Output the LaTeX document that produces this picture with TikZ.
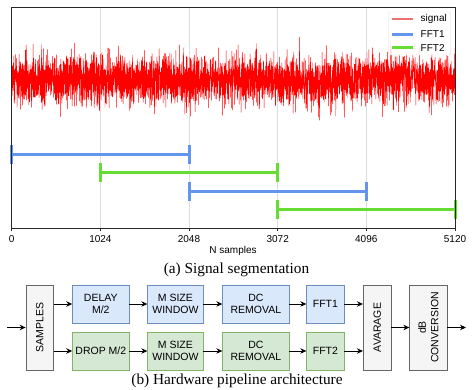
\documentclass[tikz,border=0pt]{standalone}
\usepackage{fontspec}
\setmainfont{Liberation Serif}
\setsansfont{Liberation Sans}
\usetikzlibrary{arrows.meta}
\definecolor{fftblue}{HTML}{6495ED}
\definecolor{fftgreen}{HTML}{66DD33}
\definecolor{bfill}{HTML}{DAE8FC}
\definecolor{bdraw}{HTML}{6C8EBF}
\definecolor{gfill}{HTML}{D5E8D4}
\definecolor{gdraw}{HTML}{82B366}
\definecolor{nfill}{HTML}{F5F5F5}
\definecolor{ndraw}{HTML}{666666}
\definecolor{gridc}{HTML}{DDDDDD}
\definecolor{legred}{HTML}{F07070}
\tikzset{
  box/.style={draw, line width=0.8pt, inner sep=1pt, align=center, font=\sffamily\fontsize{10.5}{11.5}\selectfont},
  bluebox/.style={box, fill=bfill, draw=bdraw},
  greenbox/.style={box, fill=gfill, draw=gdraw},
  graybox/.style={box, fill=nfill, draw=ndraw},
  arr/.style={-{Stealth[length=6pt,width=5.5pt]}, line width=0.9pt},
  seg/.style={line width=3pt},
  ticklab/.style={font=\sffamily\fontsize{10}{11}\selectfont},
  captext/.style={font=\fontsize{15.3}{17}\selectfont},
}
\begin{document}
\begin{tikzpicture}[x=1pt,y=-1pt]
\useasboundingbox (0,0) rectangle (474,389);
% grid
\foreach \gx in {100.4,189,277.7,366.3}
  \draw[gridc, line width=0.8pt] (\gx,7) -- (\gx,228);
% signal
\pgfmathsetseed{12345}
\draw[red, line width=0.45pt, line join=round]
  (11.7,80) \foreach \i in {1,...,4000} { -- ({11.7+\i*0.110825},{80+11*(rand+rand+rand+rand)}) };
% segments
\foreach \ya/\xa/\xb/\c in {154/11.7/189/fftblue, 172.7/100.4/277.7/fftgreen, 191/189/366.3/fftblue, 209/277.7/455/fftgreen}{
  \draw[\c, seg] (\xa,\ya) -- (\xb,\ya);
  \draw[\c, seg] (\xa,\ya-9.5) -- (\xa,\ya+9.5);
  \draw[\c, seg] (\xb,\ya-9.5) -- (\xb,\ya+9.5);
}
% frame
\draw[black!85, line width=0.8pt] (11.7,7) rectangle (455,228);
% ticks
\foreach \gx/\lab in {11.7/0,100.4/1024,189/2048,277.7/3072,366.3/4096,455/5120}{
  \draw[black!85, line width=0.8pt] (\gx,228) -- (\gx,231);
  \node[ticklab] (t\lab) at (\gx,239) {\lab};
}
\node[ticklab] (xl) at (233,250.5) {N samples};
% legend
\node[draw=gridc, fill=white, fill opacity=0.85, rounded corners=2pt, minimum width=62pt, minimum height=43pt] (leg) at (419.5,33.5) {};
\draw[legred, line width=1.2pt] (391.7,19) -- (412.7,19);
\draw[fftblue, seg] (391.7,34.3) -- (412.7,34.3);
\draw[fftgreen, seg] (391.7,47.7) -- (412.7,47.7);
\node[ticklab, anchor=west, inner sep=0pt] (l1) at (420.5,18.5) {signal};
\node[ticklab, anchor=west, inner sep=0pt] (l2) at (420.5,34.3) {FFT1};
\node[ticklab, anchor=west, inner sep=0pt] (l3) at (420.5,47.7) {FFT2};
% captions
\node[captext] (capa) at (236.5,270) {(a) Signal segmentation};
\node[captext] (capb) at (237,381) {(b) Hardware pipeline architecture};
% pipeline
\node[graybox, minimum width=27.5pt, minimum height=85pt] (samples) at (39.8,327.5) {};
\node[rotate=90, font=\sffamily\fontsize{10.5}{11.5}\selectfont] (samplest) at (samples.center) {SAMPLES};
\node[bluebox, minimum width=56.3pt, minimum height=38pt] (delay) at (100.8,304) {DELAY\\M/2};
\node[greenbox, minimum width=56.3pt, minimum height=38pt] (drop) at (100.8,351) {DROP M/2};
\node[bluebox, minimum width=55.3pt, minimum height=38pt] (msw1) at (175.4,304) {M SIZE\\WINDOW};
\node[greenbox, minimum width=55.3pt, minimum height=38pt] (msw2) at (175.4,351) {M SIZE\\WINDOW};
\node[bluebox, minimum width=66.3pt, minimum height=38pt] (dc1) at (255.9,304) {DC\\REMOVAL};
\node[greenbox, minimum width=66.3pt, minimum height=38pt] (dc2) at (255.9,351) {DC\\REMOVAL};
\node[bluebox, minimum width=37.3pt, minimum height=38pt] (fft1) at (325.4,304) {FFT1};
\node[greenbox, minimum width=37.3pt, minimum height=38pt] (fft2) at (325.4,351) {FFT2};
\node[graybox, minimum width=27.7pt, minimum height=85pt] (avg) at (377.2,327.5) {};
\node[rotate=90, font=\sffamily\fontsize{10.5}{11.5}\selectfont] (avgt) at (avg.center) {AVARAGE};
\node[graybox, minimum width=37.3pt, minimum height=85pt] (db) at (428.4,327.5) {};
\node[rotate=90, align=center, font=\sffamily\fontsize{10.5}{12.5}\selectfont] (dbt) at (db.center) {dB\\CONVERSION};
\coordinate (in) at (7,327.5);
\coordinate (out) at (466,327.5);
\draw[arr] (in) -- (samples.west);
\draw[arr] (samples.east |- delay.west) -- (delay.west);
\draw[arr] (samples.east |- drop.west) -- (drop.west);
\draw[arr] (delay) -- (msw1);
\draw[arr] (drop) -- (msw2);
\draw[arr] (msw1) -- (dc1);
\draw[arr] (msw2) -- (dc2);
\draw[arr] (dc1) -- (fft1);
\draw[arr] (dc2) -- (fft2);
\draw[arr] (fft1.east) -- (avg.west |- fft1.east);
\draw[arr] (fft2.east) -- (avg.west |- fft2.east);
\draw[arr] (avg) -- (db);
\draw[arr] (db.east) -- (out);
\end{tikzpicture}
\end{document}
